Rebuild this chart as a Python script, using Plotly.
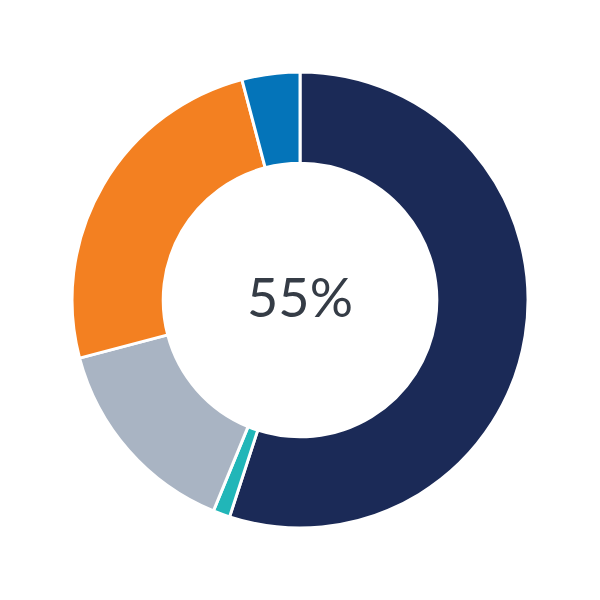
import plotly.graph_objects as go

labels = ["A", "B", "C", "D", "E"]
values = [55, 1.2, 14.7, 25, 4.1]
colors = ["#1b2a57", "#21b6b8", "#a9b4c3", "#f38021", "#0474b9"]
center_text = "55%"

fig = go.Figure(go.Pie(
    labels=labels, values=values, hole=0.6, sort=False,
    direction="clockwise", rotation=0,
    marker=dict(colors=colors, line=dict(color="white", width=3)),
    textinfo="none", hoverinfo="none",
    domain=dict(x=[0.1067, 0.8667], y=[0.1333, 0.8933]),
))
fig.update_layout(
    width=600, height=600, margin=dict(l=0, r=0, t=0, b=0),
    showlegend=False, paper_bgcolor="white",
    annotations=[dict(text=center_text, x=0.4867, y=0.52, xref="paper", yref="paper",
                      showarrow=False, font=dict(family="Lato", size=54, color="#353c46"))],
)
fig.write_html("out.html")
